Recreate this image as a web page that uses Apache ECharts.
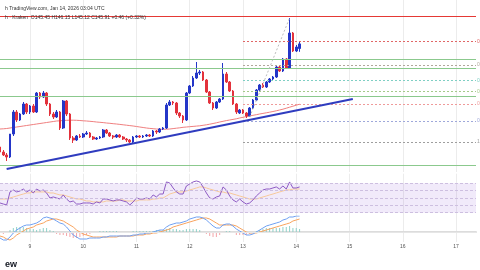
<!DOCTYPE html>
<html>
<head>
<meta charset="utf-8">
<script src="https://cdn.jsdelivr.net/npm/echarts@6/dist/echarts.min.js"></script>
<style>
  html, body { margin: 0; padding: 0; background: #fff; }
  #main { width: 480px; height: 270px; }
</style>
</head>
<body>
<div id="main"></div>
<script>
// slot = 1.5h, 16 per day; slot 9 is the start of day 9
var slots = [];
for (var i = 0; i < 144; i++) {
    var part = (i + 7) % 16;
    var day = 8 + Math.floor((i + 7) / 16);
    var mins = part * 90;
    slots.push(day + ' ' + String(Math.floor(mins / 60)).padStart(2, '0') + ':' + String(mins % 60).padStart(2, '0'));
}

var open = [135.6,135.1,134.8,134.6,136.9,139.1,138.3,138.9,139.9,139.1,139.7,139.1,141.0,140.6,141.0,139.9,138.9,138.6,139.1,137.5,
    140.2,138.9,136.5,136.3,136.7,136.6,136.9,137.0,136.6,136.4,136.5,136.6,137.3,137.0,136.7,136.6,136.8,136.6,136.4,136.3,
    136.1,136.6,136.7,136.6,136.7,136.8,136.7,137.2,137.1,137.4,137.5,139.8,140.1,140.0,139.0,138.7,138.3,141.0,141.7,142.5,
    143.0,143.1,142.3,141.1,140.0,139.5,140.1,140.4,142.9,142.1,141.2,139.9,139.0,139.3,139.0,138.7,139.5,140.3,141.3,141.8,
    141.6,142.1,142.4,142.6,143.6,143.2,144.4,143.5,147.0,145.2,145.45];
var close = [135.1,134.8,134.6,136.9,139.1,138.3,138.9,139.9,139.1,139.7,139.1,141.0,140.6,141.0,139.9,138.9,138.6,139.1,137.5,140.2,
    138.9,136.5,136.3,136.7,136.6,136.9,137.0,136.6,136.4,136.5,136.6,137.3,137.0,136.7,136.6,136.8,136.6,136.4,136.3,136.1,
    136.6,136.7,136.6,136.7,136.8,136.7,137.2,137.1,137.4,137.5,139.8,140.1,140.0,139.0,138.7,138.3,141.0,141.7,142.5,143.0,
    143.1,142.3,141.1,140.0,139.5,140.1,140.4,142.9,142.1,141.2,139.9,139.1,139.3,139.0,138.7,139.5,140.3,141.3,141.8,141.6,
    142.1,142.4,142.6,143.6,143.2,144.4,143.5,147.0,145.2,145.6,145.91];
var low = [135.0,134.7,134.2,134.5,136.7,138.1,138.2,138.8,138.9,138.9,139.0,139.0,140.4,140.5,139.7,138.7,138.4,138.5,137.3,137.4,
    138.7,136.3,136.0,136.2,136.5,136.5,136.8,136.5,136.3,136.3,136.4,136.5,136.9,136.6,136.4,136.5,136.5,136.3,136.1,136.0,
    136.0,136.5,136.5,136.5,136.6,136.6,136.6,136.9,137.0,137.3,137.4,139.7,139.8,138.8,138.5,138.0,138.2,140.9,141.6,142.4,
    142.8,142.2,141.0,139.9,139.3,139.4,140.0,140.3,142.0,141.1,139.8,138.9,138.9,138.9,138.5,138.6,139.4,140.2,141.2,141.5,
    141.5,142.0,142.3,142.5,143.1,143.1,143.4,143.4,145.1,145.1,145.12];
var high = [135.8,135.3,135.0,136.9,139.3,139.3,139.0,140.1,140.0,139.8,139.9,141.1,141.1,141.2,141.1,140.0,139.1,139.3,139.2,140.3,
    140.3,139.0,136.7,136.8,136.9,137.0,137.2,137.1,136.7,136.6,136.7,137.4,137.4,137.1,136.8,136.9,136.9,136.7,136.5,136.4,
    136.7,136.8,136.8,136.8,136.9,136.9,137.3,137.3,137.5,137.6,140.0,140.3,140.2,140.1,139.1,138.8,141.1,141.8,142.7,144.1,
    143.3,143.2,142.4,141.2,140.1,140.2,140.5,144.0,143.1,142.2,141.3,140.0,139.4,139.4,139.1,139.6,140.4,141.4,141.9,142.0,
    142.2,142.5,142.7,143.7,143.7,144.5,144.5,148.5,147.1,145.8,146.15];
var ma = [137.40,137.42,137.45,137.50,137.55,137.60,137.65,137.70,137.75,137.80,137.85,137.90,137.95,138.00,138.05,138.10,138.15,138.20,138.22,138.25,
    138.27,138.28,138.28,138.27,138.25,138.22,138.20,138.17,138.14,138.10,138.07,138.04,138.00,137.97,137.93,137.90,137.86,137.82,137.78,137.74,
    137.70,137.65,137.60,137.55,137.50,137.46,137.43,137.40,137.38,137.37,137.38,137.40,137.44,137.48,137.52,137.57,137.60,137.63,137.66,137.69,
    137.72,137.77,137.82,137.88,137.95,138.02,138.10,138.17,138.24,138.30,138.36,138.42,138.50,138.57,138.64,138.70,138.77,138.83,138.90,138.96,
    139.02,139.08,139.15,139.22,139.30,139.38,139.48,139.58,139.68,139.78,139.88];

var rsi = [43.2,41.8,40.5,58.2,60.9,58.2,59.5,62.2,58.2,60.9,56.8,62.2,59.5,60.9,56.8,50.0,51.4,50.0,48.6,54.1,
    48.6,44.6,45.9,41.8,41.8,43.2,43.2,43.2,41.8,44.6,43.2,48.6,48.6,47.3,45.9,47.3,47.3,45.9,44.6,40.5,
    44.6,50.0,48.6,48.6,50.0,48.6,54.1,51.4,55.4,55.4,71.8,70.4,63.6,58.2,55.4,55.4,66.3,69.0,71.8,73.1,
    71.8,65.0,56.8,50.0,48.6,51.4,52.7,65.0,60.9,52.7,47.3,44.6,48.6,44.6,41.8,43.2,47.3,52.7,56.8,60.9,
    62.2,62.2,63.6,65.0,62.2,66.3,62.2,71.8,63.6,63.6,65.0];
var rsiMa = [48.6,48.6,48.6,50.0,51.4,52.7,54.1,55.4,56.8,56.8,58.2,58.2,58.2,58.2,58.2,56.8,56.8,55.4,54.1,54.1,
    52.7,51.4,50.0,48.6,48.6,47.3,45.9,45.9,44.6,44.6,44.6,44.6,45.9,45.9,45.9,45.9,47.3,47.3,45.9,45.9,
    45.9,45.9,47.3,47.3,47.3,47.3,48.6,48.6,50.0,50.0,52.7,55.4,56.8,58.2,58.2,58.2,59.5,60.9,62.2,63.6,
    65.0,65.0,63.6,62.2,60.9,59.5,58.2,58.2,56.8,56.8,55.4,54.1,52.7,51.4,50.0,48.6,48.6,48.6,50.0,51.4,
    52.7,54.1,55.4,56.8,58.2,59.5,60.9,60.9,62.2,62.2,62.2];

var macd = [-0.6,-0.8,-0.8,-0.5,-0.1,0.2,0.4,0.6,0.7,0.7,0.8,0.9,1.1,1.4,1.5,1.4,1.3,1.1,0.9,0.8,
    0.5,0.1,-0.3,-0.5,-0.7,-0.7,-0.7,-0.6,-0.6,-0.6,-0.6,-0.5,-0.5,-0.4,-0.4,-0.4,-0.4,-0.4,-0.4,-0.4,
    -0.3,-0.3,-0.2,-0.2,-0.1,-0.1,0.0,0.1,0.2,0.2,0.5,0.7,0.8,0.9,0.9,1.0,1.1,1.3,1.4,1.5,
    1.5,1.4,1.2,0.9,0.6,0.4,0.4,0.7,0.8,0.8,0.6,0.3,0.1,-0.1,-0.3,-0.3,-0.2,0.0,0.2,0.4,
    0.6,0.7,0.8,0.9,1.0,1.2,1.3,1.5,1.5,1.6,1.6];
var signal = [-0.4,-0.5,-0.7,-0.8,-0.6,-0.3,-0.1,0.1,0.3,0.4,0.5,0.7,0.8,0.9,1.1,1.2,1.3,1.3,1.2,1.1,
    0.9,0.7,0.5,0.2,0.0,-0.2,-0.3,-0.4,-0.5,-0.5,-0.5,-0.5,-0.5,-0.5,-0.5,-0.5,-0.4,-0.4,-0.4,-0.4,
    -0.4,-0.3,-0.3,-0.3,-0.2,-0.2,-0.1,-0.1,0.0,0.1,0.2,0.3,0.5,0.6,0.7,0.8,0.9,1.0,1.1,1.2,
    1.3,1.4,1.4,1.3,1.1,0.9,0.7,0.7,0.7,0.7,0.7,0.6,0.4,0.2,0.0,-0.1,-0.1,-0.1,0.0,0.1,
    0.2,0.3,0.4,0.5,0.6,0.7,0.8,0.9,1.1,1.2,1.3];
var hist = [-0.1,-0.2,-0.1,0.2,0.4,0.5,0.5,0.5,0.4,0.3,0.3,0.2,0.3,0.4,0.4,0.2,0.1,-0.2,-0.3,-0.3,
    -0.4,-0.5,-0.6,-0.6,-0.5,-0.4,-0.3,-0.2,-0.1,-0.1,0.1,0.1,0.1,0.1,0.1,0.1,0.0,0.0,0.0,0.0,
    0.1,0.1,0.1,0.1,0.1,0.1,0.1,0.2,0.2,0.2,0.3,0.4,0.3,0.3,0.2,0.2,0.3,0.3,0.3,0.3,
    0.2,0.0,-0.2,-0.4,-0.5,-0.5,-0.3,0.0,0.1,0.1,-0.1,-0.3,-0.3,-0.3,-0.3,-0.2,-0.1,0.1,0.2,0.3,
    0.4,0.4,0.4,0.4,0.4,0.5,0.5,0.6,0.4,0.4,0.3];

// drawn levels
var resistance = 148.7;
var supports = [144.37, 143.47, 140.7, 133.8];
var fibLevels = ['0', '0.236', '0.382', '0.5', '0.618', '0.786', '1'];
var fibPrices = [146.17, 143.8, 142.23, 141.15, 139.9, 138.2, 136.1];
var fibStart = 73;
var trendStart = [2, 133.4];
var trendEnd = [106, 140.4];
var swingLine = [[75, 138.6], [87, 148.5]];
var rsiLevels = [70, 60, 50, 40, 30];

var candles = open.map(function (o, i) { return [o, close[i], low[i], high[i]]; });
var fibColors = ['#e06666', '#b0a89a', '#7fcfc4', '#a5c98a', '#ef9a9a', '#9fa8da', '#9e9e9e'];

var dayTick = function (index) { return (index + 7) % 16 === 0; };

var chartDom = document.getElementById('main');
var myChart = echarts.init(chartDom);

function xAxisFor(gridIndex, showLabels) {
    return {
        type: 'category',
        gridIndex: gridIndex,
        data: slots,
        boundaryGap: false,
        axisLine: { show: showLabels, lineStyle: { color: '#dcdcdc', width: 2 } },
        axisTick: { show: false },
        axisLabel: {
            show: showLabels,
            interval: dayTick,
            formatter: function (v) { return v.split(' ')[0]; },
            fontSize: 5,
            color: '#555',
            margin: 2,
            fontFamily: 'Liberation Sans'
        },
        splitLine: { show: true, interval: dayTick, lineStyle: { color: '#ececec', width: 1 } }
    };
}

var fibLines = fibPrices.map(function (p, k) {
    return [
        { coord: [fibStart, p], lineStyle: { color: fibColors[k], type: [2, 2], width: 1 },
          label: { show: true, position: 'end', distance: 1, formatter: fibLevels[k], fontSize: 5, color: fibColors[k] } },
        { coord: [143, p] }
    ];
});

var option = {
    animation: false,
    backgroundColor: '#fff',
    textStyle: { fontFamily: 'Liberation Sans' },
    title: [
        { text: 'h TradingView.com, Jan 14, 2026 03:04 UTC', left: 0, top: 1,
          textStyle: { fontSize: 5, fontWeight: 'normal', color: '#333' } },
        { text: 'h \u00b7 Kraken  O145.45 H146.15 L145.12 C145.91 +0.46 (+0.32%)', left: 0, top: 10,
          textStyle: { fontSize: 5, fontWeight: 'normal', color: '#333' } },
        { text: 'ew', left: 0, top: 255,
          textStyle: { fontSize: 9, fontWeight: 'bold', color: '#131722' } }
    ],
    grid: [
        { left: 0, right: 4, top: 0, height: 172 },
        { left: 0, right: 4, top: 173.7, height: 43.4 },
        { left: 0, right: 4, top: 216, height: 26 }
    ],
    xAxis: [xAxisFor(0, false), xAxisFor(1, false), xAxisFor(2, true)],
    yAxis: [
        { gridIndex: 0, min: 133.1, max: 150.3, show: false, splitLine: { show: false } },
        { gridIndex: 1, min: 24, max: 83, show: false, splitLine: { show: false } },
        { gridIndex: 2, min: -1.0, max: 1.6, show: false, splitLine: { show: false } }
    ],
    series: [
        {
            type: 'candlestick',
            xAxisIndex: 0, yAxisIndex: 0,
            data: candles,
            barWidth: 2.2,
            itemStyle: {
                color: '#2436c8', color0: '#e3323c',
                borderColor: '#2436c8', borderColor0: '#e3323c', borderWidth: 1
            },
            markLine: {
                silent: true,
                symbol: 'none',
                label: { show: false },
                data: [
                    { yAxis: resistance, lineStyle: { color: '#e53935', width: 1, type: 'solid' } }
                ].concat(supports.map(function (p) {
                    return { yAxis: p, lineStyle: { color: '#8bc98d', width: 1, type: 'solid' } };
                })).concat(fibLines).concat([
                    [{ coord: trendStart, lineStyle: { color: '#2f3cbf', width: 2, type: 'solid' } }, { coord: trendEnd }],
                    [{ coord: swingLine[0], lineStyle: { color: '#bdbdbd', width: 1, type: [2, 2] } }, { coord: swingLine[1] }]
                ])
            }
        },
        {
            type: 'line',
            xAxisIndex: 0, yAxisIndex: 0,
            data: ma,
            symbol: 'none',
            lineStyle: { color: '#ef7f7f', width: 1 },
            z: 1
        },
        {
            type: 'line',
            xAxisIndex: 1, yAxisIndex: 1,
            data: rsiMa,
            symbol: 'none',
            lineStyle: { color: '#f7c99a', width: 1 }
        },
        {
            type: 'line',
            xAxisIndex: 1, yAxisIndex: 1,
            data: rsi,
            symbol: 'none',
            lineStyle: { color: '#8e5bc4', width: 1 },
            markArea: {
                silent: true,
                itemStyle: { color: 'rgba(149,95,214,0.13)' },
                data: [[{ yAxis: 30 }, { yAxis: 70 }]]
            },
            markLine: {
                silent: true,
                symbol: 'none',
                label: { show: false },
                data: rsiLevels.map(function (v) {
                    return { yAxis: v, lineStyle: { color: '#cdbfe0', width: 1, type: [3, 2] } };
                })
            }
        },
        {
            type: 'bar',
            xAxisIndex: 2, yAxisIndex: 2,
            data: hist,
            barWidth: 1,
            itemStyle: {
                color: function (p) { return p.value >= 0 ? '#8fd1c8' : '#f4a4a8'; }
            },
            markLine: {
                silent: true,
                symbol: 'none',
                label: { show: false },
                data: [{ yAxis: 0, lineStyle: { color: '#e6e6e6', width: 1, type: 'solid' } }]
            }
        },
        {
            type: 'line',
            xAxisIndex: 2, yAxisIndex: 2,
            data: signal,
            symbol: 'none',
            lineStyle: { color: '#f8a35e', width: 1 }
        },
        {
            type: 'line',
            xAxisIndex: 2, yAxisIndex: 2,
            data: macd,
            symbol: 'none',
            lineStyle: { color: '#6fa0f2', width: 1 }
        }
    ]
};

option && myChart.setOption(option);
</script>
</body>
</html>
